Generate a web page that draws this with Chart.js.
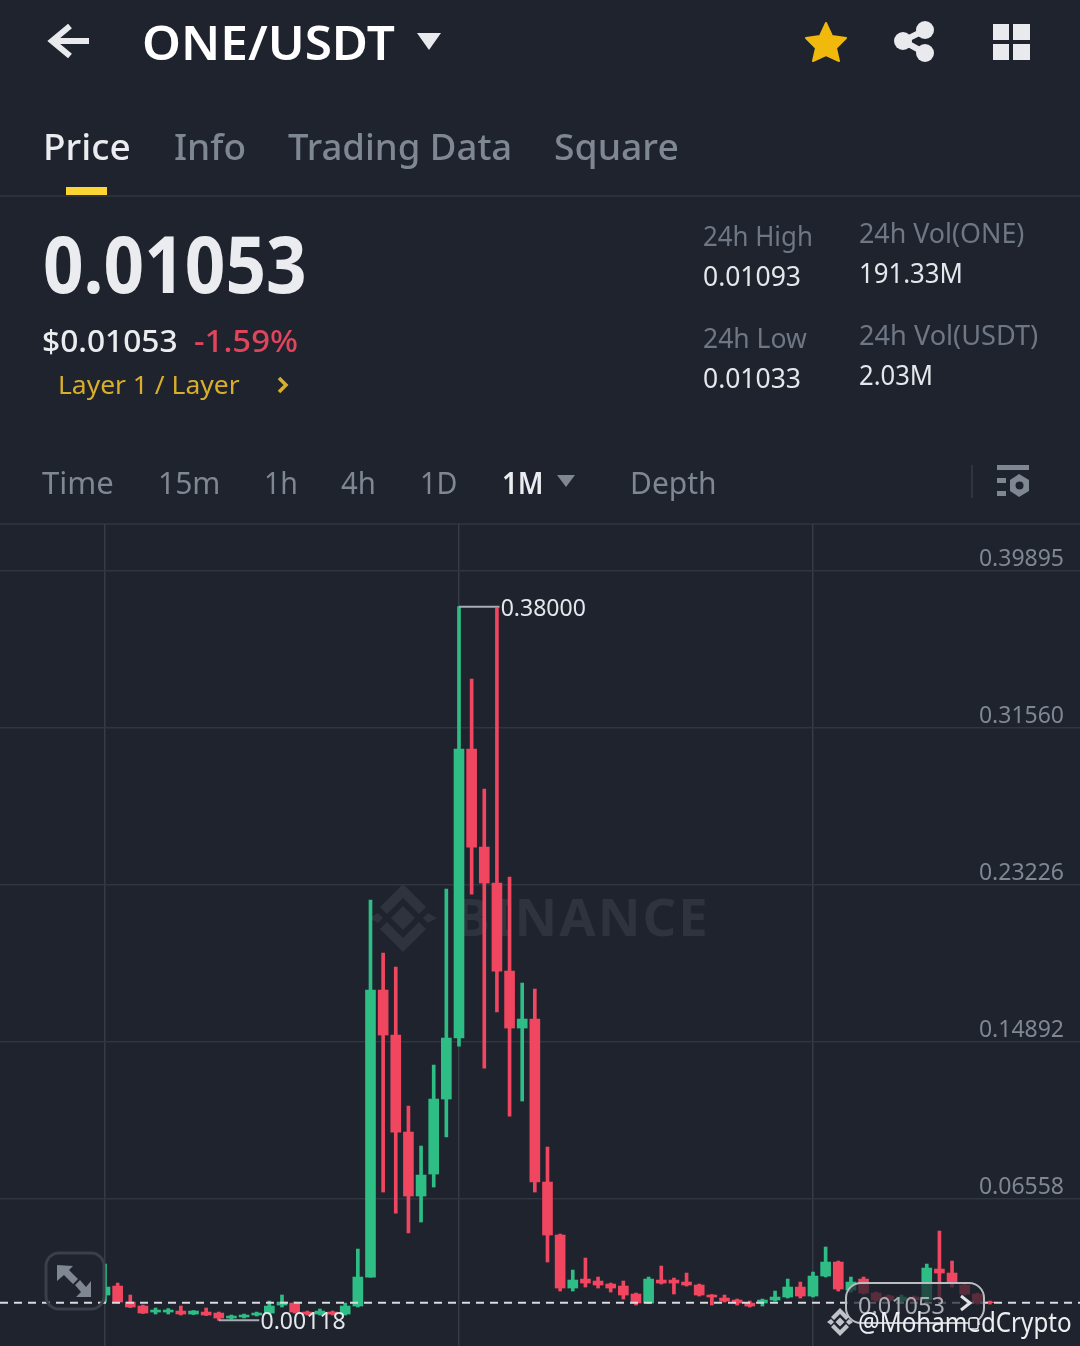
<!DOCTYPE html>
<html>
<head>
<meta charset="utf-8">
<title>ONE/USDT</title>
<script src="https://cdn.jsdelivr.net/npm/chart.js@4"></script>
<style>
html, body { margin: 0; padding: 0; background: #1e232e; }
body { width: 1080px; height: 1346px; position: relative; overflow: hidden; font-family: "Noto Sans", sans-serif; }
.t { position: absolute; white-space: nowrap; line-height: 1; transform-origin: left center; z-index: 3; }
.g { color: #7f8793; }
.d { color: #6f7784; }
.w { color: #e4e7eb; }
.line { position: absolute; background: #2b303a; height: 2px; left: 0; width: 1080px; }
svg { position: absolute; overflow: visible; }
#canvas { position: absolute; left: 0; top: 524px; z-index: 1; }
#btn { position: absolute; left: 845px; top: 1282px; width: 140px; height: 42px; border: 2px solid #b9bcc1; border-radius: 16px; background: rgba(30,35,46,.72); z-index: 2; box-sizing: border-box; }
</style>
</head>
<body>
<!-- top bar -->
<svg style="left:0;top:0" width="1080" height="100">
  <path d="M89 41H54M70 26L52 41L70 56" fill="none" stroke="#e8eaed" stroke-width="6"/>
  <path d="M417 33H441L429 50Z" fill="#e8eaed"/>
  <path d="M826 23L832 36L846 38L836 48L839 61L826 55L813 61L816 48L806 38L820 36Z" fill="#f0b90b" stroke="#f0b90b" stroke-linejoin="round" stroke-width="2"/>
  <path d="M925 30L903 41L925 53" fill="none" stroke="#e8eaed" stroke-width="6"/>
  <circle cx="925" cy="30" r="9" fill="#e8eaed"/><circle cx="903" cy="41" r="9" fill="#e8eaed"/><circle cx="925" cy="53" r="9" fill="#e8eaed"/>
  <path d="M993 24H1009V40H993ZM1013 24H1030V40H1013ZM993 44H1009V60H993ZM1013 44H1030V60H1013Z" fill="#e8eaed"/>
</svg>
<span class="t" data-w="253" style="left:142px;top:42px;font-size:46px;font-weight:600;color:#fff">ONE/USDT</span>
<span class="t" data-w="88" style="left:43px;top:145px;font-size:37px;font-weight:500;color:#eaecef">Price</span>
<span class="t g" data-w="72" style="left:174px;top:145px;font-size:37px;font-weight:500">Info</span>
<span class="t g" data-w="224" style="left:288px;top:145px;font-size:37px;font-weight:500">Trading Data</span>
<span class="t g" data-w="125" style="left:554px;top:145px;font-size:37px;font-weight:500">Square</span>
<div style="position:absolute;left:66px;top:187px;width:41px;height:8px;background:#fcd535"></div>
<div class="line" style="top:195px"></div>

<!-- price block -->
<span class="t" data-w="264" style="left:43px;top:263px;font-size:78px;font-weight:700;color:#eaecef">0.01053</span>
<span class="t" data-w="136" style="left:42px;top:340px;font-size:31px;font-weight:500;color:#eaecef">$0.01053</span>
<span class="t" data-w="104" style="left:194px;top:340px;font-size:31px;font-weight:500;color:#e0455c">-1.59%</span>
<span class="t" data-w="182" style="left:58px;top:384px;font-size:26px;color:#d9ae2b">Layer 1 / Layer</span>
<svg style="left:0;top:0" width="300" height="400"><path d="M279 378L286 385L279 392" fill="none" stroke="#d9ae2b" stroke-width="3.5"/></svg>

<span class="t d" data-w="110" style="left:703px;top:235px;font-size:27px">24h High</span>
<span class="t w" data-w="98" style="left:703px;top:275px;font-size:27px">0.01093</span>
<span class="t d" data-w="104" style="left:703px;top:337px;font-size:27px">24h Low</span>
<span class="t w" data-w="98" style="left:703px;top:377px;font-size:27px">0.01033</span>
<span class="t d" data-w="165" style="left:859px;top:232px;font-size:27px">24h Vol(ONE)</span>
<span class="t w" data-w="104" style="left:859px;top:272px;font-size:27px">191.33M</span>
<span class="t d" data-w="179" style="left:859px;top:334px;font-size:27px">24h Vol(USDT)</span>
<span class="t w" data-w="74" style="left:859px;top:374px;font-size:27px">2.03M</span>

<!-- intervals -->
<span class="t g" data-w="72" style="left:42px;top:482px;font-size:31px">Time</span>
<span class="t g" data-w="62" style="left:158px;top:482px;font-size:31px">15m</span>
<span class="t g" data-w="34" style="left:264px;top:482px;font-size:31px">1h</span>
<span class="t g" data-w="35" style="left:341px;top:482px;font-size:31px">4h</span>
<span class="t g" data-w="37" style="left:420px;top:482px;font-size:31px">1D</span>
<span class="t" data-w="42" style="left:502px;top:482px;font-size:31px;font-weight:600;color:#eaecef">1M</span>
<span class="t g" data-w="87" style="left:630px;top:482px;font-size:31px">Depth</span>
<svg style="left:0;top:0" width="1080" height="524">
  <path d="M557 475H575L566 487Z" fill="#7f8793"/>
  <path d="M972 465V498" stroke="#2f343e" stroke-width="2"/>
  <path d="M997 465H1029V470H997ZM997 478H1006V483H997ZM997 491H1006V496H997Z" fill="#7f8793"/>
  <path d="M1019 474L1029 480V491L1019 497L1010 491V480Z" fill="#7f8793"/><circle cx="1019.500" cy="485.500" r="4" fill="#1e232e"/>
</svg>
<div class="line" style="top:523px"></div>

<!-- faint exchange mark behind the candles -->
<svg style="left:0;top:0;z-index:0" width="1080" height="1346">
  <g fill="#2e333e" transform="translate(403 918)">
    <path d="M0 -12L12 0L0 12L-12 0Z"/>
    <path d="M-24 -5L-19 0L-24 5L-33 0Z" transform="translate(-1 0)"/>
    <path d="M24 -5L33 0L24 5L19 0Z" transform="translate(1 0)"/>
    <path d="M0 -34L23 -11L16 -4L0 -20L-16 -4L-23 -11Z"/>
    <path d="M0 34L23 11L16 4L0 20L-16 4L-23 11Z"/>
  </g>
</svg>
<span class="t" data-w="255" style="left:455px;top:916px;font-size:52px;font-weight:700;letter-spacing:2px;color:#2e333e;z-index:0">BINANCE</span>

<canvas id="canvas" width="1080" height="822"></canvas>

<!-- overlays on the chart -->
<svg style="left:0;top:0;z-index:2" width="1080" height="1346">
  <rect x="98" y="1280" width="6" height="20" fill="#1e232e"/>
  <rect x="46" y="1253" width="58" height="56" rx="13" fill="none" stroke="#3a3f4a" stroke-width="3"/>
  <path d="M57 1265L73 1266L69 1270L78 1279L73 1284L64 1275L57 1281Z" fill="#7f8793"/>
  <path d="M91 1281V1297H76L81 1292L75 1285L80 1280L86 1287Z" fill="#7f8793"/>
</svg>
<div id="btn"></div>
<span class="t" data-w="87" style="left:858px;top:1305px;font-size:24px;color:#a9adb3">0.01053</span>
<svg style="left:0;top:0;z-index:3" width="1080" height="1346">
  <path d="M961 1296L970 1303L961 1310" fill="none" stroke="#e0e2e5" stroke-width="3"/>
  <g fill="#bfc2c7" transform="translate(840 1322)">
    <path d="M0 -4.500L4.500 0L0 4.500L-4.500 0Z"/>
    <path d="M-9 -3L-6 0L-9 3L-13 0Z"/><path d="M9 -3L13 0L9 3L6 0Z"/>
    <path d="M0 -14L9 -5L6 -2L0 -8L-6 -2L-9 -5Z"/>
    <path d="M0 14L9 5L6 2L0 8L-6 2L-9 5Z"/>
  </g>
</svg>
<span class="t" data-w="214" style="left:858px;top:1321px;font-size:28px;color:#eceef1">@MohamedCrypto</span>
<svg style="left:0;top:0;z-index:4" width="1080" height="1346">
  <rect x="969" y="1318" width="9" height="11" rx="2" fill="#1e232e" stroke="#e8eaed" stroke-width="1.500"/>
</svg>

<script>
// monthly candles, left to right
const opens = [0.01460, 0.01937, 0.01088, 0.00876, 0.00557, 0.00557, 0.00610, 0.00451, 0.00557, 0.00504,
  0.00239, 0.00292, 0.00398, 0.00504, 0.00929, 0.01035, 0.00557, 0.00451, 0.00557, 0.00451,
  0.00876, 0.02415, 0.17649, 0.15261, 0.10112, 0.06715, 0.07883, 0.11864, 0.15102, 0.30442,
  0.25240, 0.23329, 0.18658, 0.15632, 0.16110, 0.07458, 0.04645, 0.01831, 0.02309, 0.02203,
  0.02044, 0.01937, 0.01513, 0.01035, 0.02256, 0.02256, 0.02150, 0.01991, 0.01460, 0.01300,
  0.01194, 0.01035, 0.01035, 0.01194, 0.01354, 0.01884, 0.01407, 0.02468, 0.03211, 0.01725,
  0.02309, 0.01566, 0.01407, 0.01141, 0.01354, 0.01194, 0.02840, 0.02628, 0.01991, 0.01513,
  0.01088];
const closes = [0.01884, 0.01088, 0.00823, 0.00504, 0.00664, 0.00664, 0.00451, 0.00610, 0.00398, 0.00239,
  0.00345, 0.00398, 0.00504, 0.00876, 0.01088, 0.00557, 0.00451, 0.00610, 0.00451, 0.00876,
  0.02415, 0.17649, 0.15261, 0.10112, 0.06715, 0.07829, 0.11864, 0.15102, 0.30442, 0.25240,
  0.23329, 0.18658, 0.15632, 0.16110, 0.07458, 0.04645, 0.01831, 0.02256, 0.02097, 0.01991,
  0.01831, 0.01460, 0.01035, 0.02309, 0.02097, 0.02097, 0.01991, 0.01460, 0.01354, 0.01141,
  0.01035, 0.00876, 0.01194, 0.01354, 0.01884, 0.01407, 0.02468, 0.03211, 0.01778, 0.02150,
  0.01566, 0.01194, 0.01194, 0.01354, 0.01194, 0.02893, 0.02628, 0.02097, 0.01513, 0.01035,
  0.01053];
const highs = [0.03105, 0.02097, 0.01460, 0.00929, 0.00770, 0.00743, 0.00876, 0.00637, 0.00770, 0.00557,
  0.00398, 0.00451, 0.00557, 0.01141, 0.01460, 0.01088, 0.00610, 0.00717, 0.00610, 0.01035,
  0.03901, 0.22427, 0.19613, 0.18870, 0.11492, 0.09369, 0.13668, 0.23011, 0.38000, 0.34158,
  0.28319, 0.37927, 0.23648, 0.18021, 0.17703, 0.09316, 0.04698, 0.02787, 0.03424, 0.02415,
  0.02097, 0.02203, 0.01566, 0.02415, 0.02999, 0.02362, 0.02628, 0.02044, 0.01487, 0.01460,
  0.01247, 0.01141, 0.01247, 0.01672, 0.02309, 0.02150, 0.02681, 0.04008, 0.03264, 0.02415,
  0.02415, 0.01619, 0.01460, 0.01460, 0.01407, 0.03105, 0.04857, 0.03264, 0.02097, 0.01566,
  0.01141];
const lows = [0.01088, 0.01035, 0.00796, 0.00478, 0.00451, 0.00451, 0.00398, 0.00425, 0.00372, 0.00118,
  0.00186, 0.00239, 0.00345, 0.00451, 0.00823, 0.00504, 0.00398, 0.00398, 0.00398, 0.00398,
  0.00823, 0.02415, 0.06927, 0.05812, 0.04751, 0.05335, 0.07193, 0.09847, 0.14677, 0.22745,
  0.13509, 0.16482, 0.10961, 0.11757, 0.06927, 0.03211, 0.01672, 0.01672, 0.01884, 0.01831,
  0.01619, 0.01247, 0.00929, 0.01009, 0.02044, 0.01513, 0.01937, 0.01407, 0.00929, 0.01088,
  0.00929, 0.00823, 0.00876, 0.01141, 0.01300, 0.01300, 0.01354, 0.02415, 0.01672, 0.01619,
  0.01513, 0.01141, 0.01141, 0.01088, 0.01141, 0.01141, 0.01194, 0.01884, 0.01460, 0.00982,
  0.00982];
const priceTicks = [0.39895, 0.31560, 0.23226, 0.14892, 0.06558];
const timeGrid = [0, 28, 56];

const lastPrice = 0.01053;
const highPrice = 0.38000;
const lowPrice = 0.00118;
const highIndex = 28;
const lowIndex = 9;

const xMin = -8.305, xMax = 77.12;
const yMin = -0.01245, yMax = 0.42388;

const green = '#2ebd85';
const red = '#f0465f';
const candleColor = ctx => closes[ctx.dataIndex] >= opens[ctx.dataIndex] && ctx.dataIndex !== 70 ? green : red;

// squeeze header text to the widths in the picture
document.querySelectorAll('.t').forEach(el => {
  const fit = el.dataset.w / el.offsetWidth;
  el.style.transform = 'translateY(-50%) scaleX(' + fit + ')';
});

const extremeLabels = {
  id: 'extremeLabels',
  afterDatasetsDraw(chart) {
    const { x, y } = chart.scales;
    const c = chart.ctx;
    c.save();
    c.font = '23px "Noto Sans"';
    c.fillStyle = '#e4e7eb';
    c.textBaseline = 'middle';
    c.fillText(highPrice.toFixed(5), x.getPixelForValue(highIndex + 3.3), y.getPixelForValue(highPrice) + 3);
    c.fillText(lowPrice.toFixed(5), x.getPixelForValue(lowIndex + 3.3), y.getPixelForValue(lowPrice) + 2);
    c.restore();
  }
};

new Chart(document.getElementById('canvas').getContext('2d'), {
  type: 'bar',
  plugins: [extremeLabels],
  data: {
    datasets: [
      {
        label: 'wick',
        data: highs.map((h, i) => ({ x: i, y: [lows[i], h] })),
        backgroundColor: candleColor,
        barThickness: 3,
        grouped: false,
        order: 3
      },
      {
        label: 'body',
        data: opens.map((o, i) => ({ x: i, y: [o, closes[i]] })),
        backgroundColor: candleColor,
        barThickness: 10,
        grouped: false,
        order: 2
      },
      {
        type: 'line',
        label: 'last',
        data: [{ x: xMin, y: lastPrice }, { x: xMax, y: lastPrice }],
        borderColor: '#d8dade',
        borderWidth: 2,
        borderDash: [8, 6],
        pointRadius: 0,
        order: 1
      },
      {
        type: 'line',
        label: 'high',
        data: [{ x: highIndex, y: highPrice }, { x: highIndex + 3.2, y: highPrice }],
        borderColor: '#a9adb3',
        borderWidth: 2,
        pointRadius: 0,
        order: 1
      },
      {
        type: 'line',
        label: 'low',
        data: [{ x: lowIndex, y: lowPrice }, { x: lowIndex + 3.2, y: lowPrice }],
        borderColor: '#a9adb3',
        borderWidth: 2,
        pointRadius: 0,
        order: 1
      }
    ]
  },
  options: {
    responsive: false,
    animation: false,
    layout: { padding: 0 },
    plugins: { legend: { display: false }, tooltip: { enabled: false } },
    scales: {
      x: {
        type: 'linear',
        min: xMin,
        max: xMax,
        offset: false,
        border: { display: false },
        grid: { offset: false, color: '#363b46', lineWidth: 1.5, drawTicks: false },
        ticks: { display: false },
        afterBuildTicks: scale => { scale.ticks = timeGrid.map(value => ({ value })); }
      },
      y: {
        position: 'right',
        min: yMin,
        max: yMax,
        border: { display: false },
        grid: { color: '#30353f', lineWidth: 1.5, drawTicks: false },
        ticks: {
          mirror: true,
          padding: -16,
          labelOffset: -12,
          autoSkip: false,
          color: '#7f8793',
          font: { family: '"Noto Sans"', size: 23 },
          callback: value => value.toFixed(5)
        },
        afterBuildTicks: scale => { scale.ticks = priceTicks.map(value => ({ value })); },
        afterFit: scale => { scale.width = 0; scale.paddingTop = 0; scale.paddingBottom = 0; }
      }
    }
  }
});
</script>
</body>
</html>
